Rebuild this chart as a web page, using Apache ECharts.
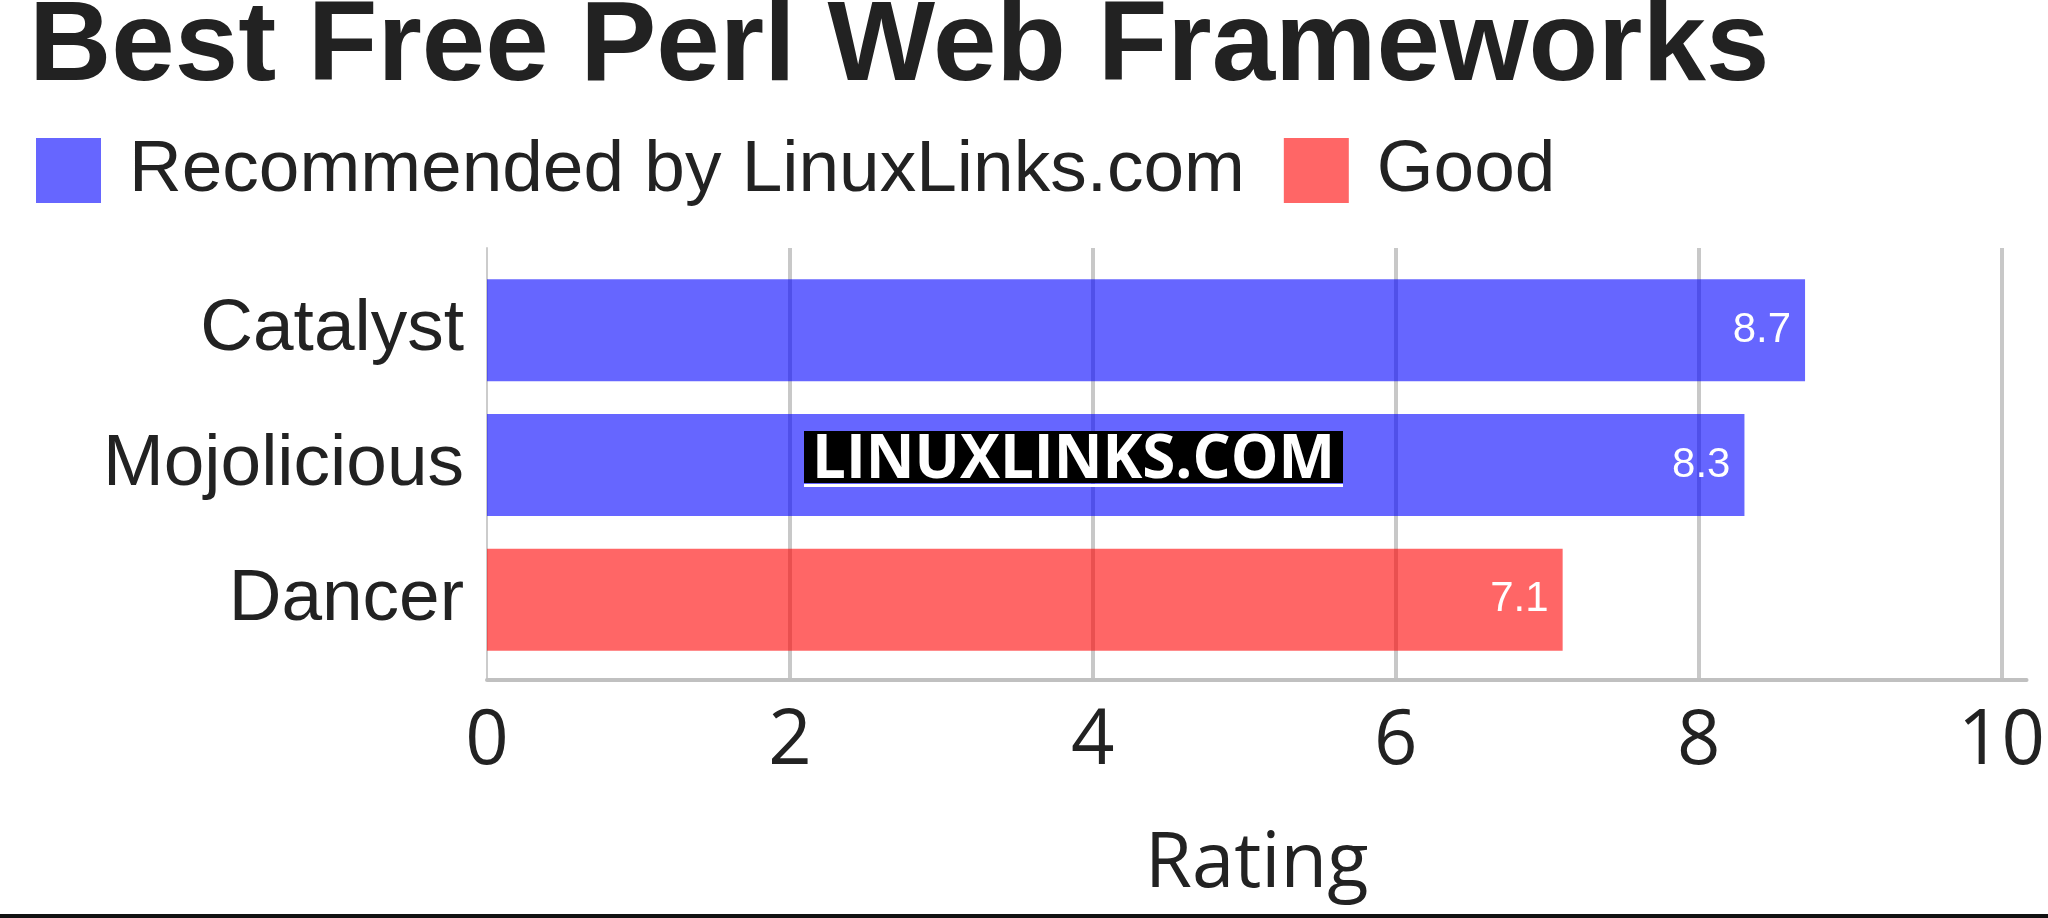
<!DOCTYPE html>
<html>
<head>
<meta charset="utf-8">
<script src="https://cdn.jsdelivr.net/npm/echarts@6/dist/echarts.min.js"></script>
<style>
html,body{margin:0;padding:0;background:#fff;}
#chart{width:2048px;height:918px;}
</style>
</head>
<body>
<div id="chart"></div>
<script>
// ---- data ----
const titleText = 'Best Free Perl Web Frameworks';
const categories = ['Catalyst', 'Mojolicious', 'Dancer'];
const seriesNames = ['Recommended by LinuxLinks.com', 'Good'];
const recommendedValues = [8.7, 8.3, '-'];
const goodValues = ['-', '-', 7.1];
const xTickInterval = 2;
const xMin = 0;
const xMax = 10.165;
const axisName = 'Rating';
const watermarkText = 'LINUXLINKS.COM';

const chart = echarts.init(document.getElementById('chart'));
const sansA = '"Liberation Sans", Arial, sans-serif';
const sansB = '"Open Sans", "Noto Sans", sans-serif';

const labelStyle = {
  show: true,
  position: 'insideRight',
  distance: 14,
  color: '#ffffff',
  fontSize: 42,
  fontFamily: sansA,
  formatter: p => p.value
};

chart.setOption({
  backgroundColor: '#ffffff',
  animation: false,
  title: {
    text: titleText,
    left: 24,
    top: -13,
    textStyle: { fontSize: 114, fontWeight: 'bold', fontFamily: sansA, color: '#222222' }
  },
  legend: {
    left: 31,
    top: 129,
    itemWidth: 65,
    itemHeight: 65,
    itemGap: 39,
    icon: 'rect',
    textStyle: { fontSize: 73, fontFamily: sansA, color: '#222222', padding: [0, 0, 0, 23] },
    data: seriesNames
  },
  grid: [
    { left: 487, width: 1540, top: 263, height: 404 },
    { left: 487, width: 1540, top: 248, height: 432 }
  ],
  xAxis: [
    { type: 'value', gridIndex: 0, min: xMin, max: xMax, show: false },
    {
      type: 'value', gridIndex: 1, min: xMin, max: xMax, interval: xTickInterval,
      axisLine: { show: true, lineStyle: { color: '#c0c0c0', width: 4 } },
      axisTick: { show: false },
      axisLabel: {
        fontSize: 76, fontFamily: sansB, color: '#222222', margin: 24,
        showMaxLabel: false,
        formatter: v => (v % xTickInterval === 0 ? String(v) : '')
      },
      splitLine: { show: true, showMinLine: false, showMaxLine: false, lineStyle: { color: '#c8c8c8', width: 4 } },
      name: axisName,
      nameLocation: 'middle',
      nameGap: 147,
      nameTextStyle: { fontSize: 76, fontFamily: sansB, color: '#222222' }
    }
  ],
  yAxis: [
    {
      type: 'category', gridIndex: 0, data: categories, inverse: true,
      axisLine: { show: false }, axisTick: { show: false },
      axisLabel: { fontSize: 73, fontFamily: sansA, color: '#222222', margin: 23 }
    },
    {
      type: 'value', gridIndex: 1,
      axisLine: { show: true, lineStyle: { color: '#cccccc', width: 2 } },
      axisTick: { show: false }, axisLabel: { show: false }, splitLine: { show: false }
    }
  ],
  series: [
    {
      name: seriesNames[0], type: 'bar', stack: 'all', xAxisIndex: 0, yAxisIndex: 0,
      data: recommendedValues, barWidth: 102,
      itemStyle: { color: 'rgba(0,0,255,0.6)' },
      label: labelStyle, z: 3
    },
    {
      name: seriesNames[1], type: 'bar', stack: 'all', xAxisIndex: 0, yAxisIndex: 0,
      data: goodValues, barWidth: 102,
      itemStyle: { color: 'rgba(255,0,0,0.6)' },
      label: labelStyle, z: 3
    }
  ],
  graphic: [
    {
      type: 'group', left: 804, top: 431, z: 100, zlevel: 1,
      children: [
        { type: 'rect', z: 100, zlevel: 1, shape: { x: 0, y: 0, width: 539, height: 52 }, style: { fill: '#000000' } },
        { type: 'rect', z: 100, zlevel: 1, shape: { x: 0, y: 53, width: 539, height: 3 }, style: { fill: '#ffffff' } },
        { type: 'text', z: 101, zlevel: 1, x: 269.5, y: 30, style: {
            text: watermarkText, fill: '#ffffff', fontSize: 60, fontWeight: 'bold',
            fontFamily: sansB, align: 'center', verticalAlign: 'middle' } }
      ]
    },
    { type: 'rect', left: 0, bottom: 0, z: 100, shape: { width: 2048, height: 4 }, style: { fill: '#111111' } }
  ]
});
</script>
</body>
</html>
